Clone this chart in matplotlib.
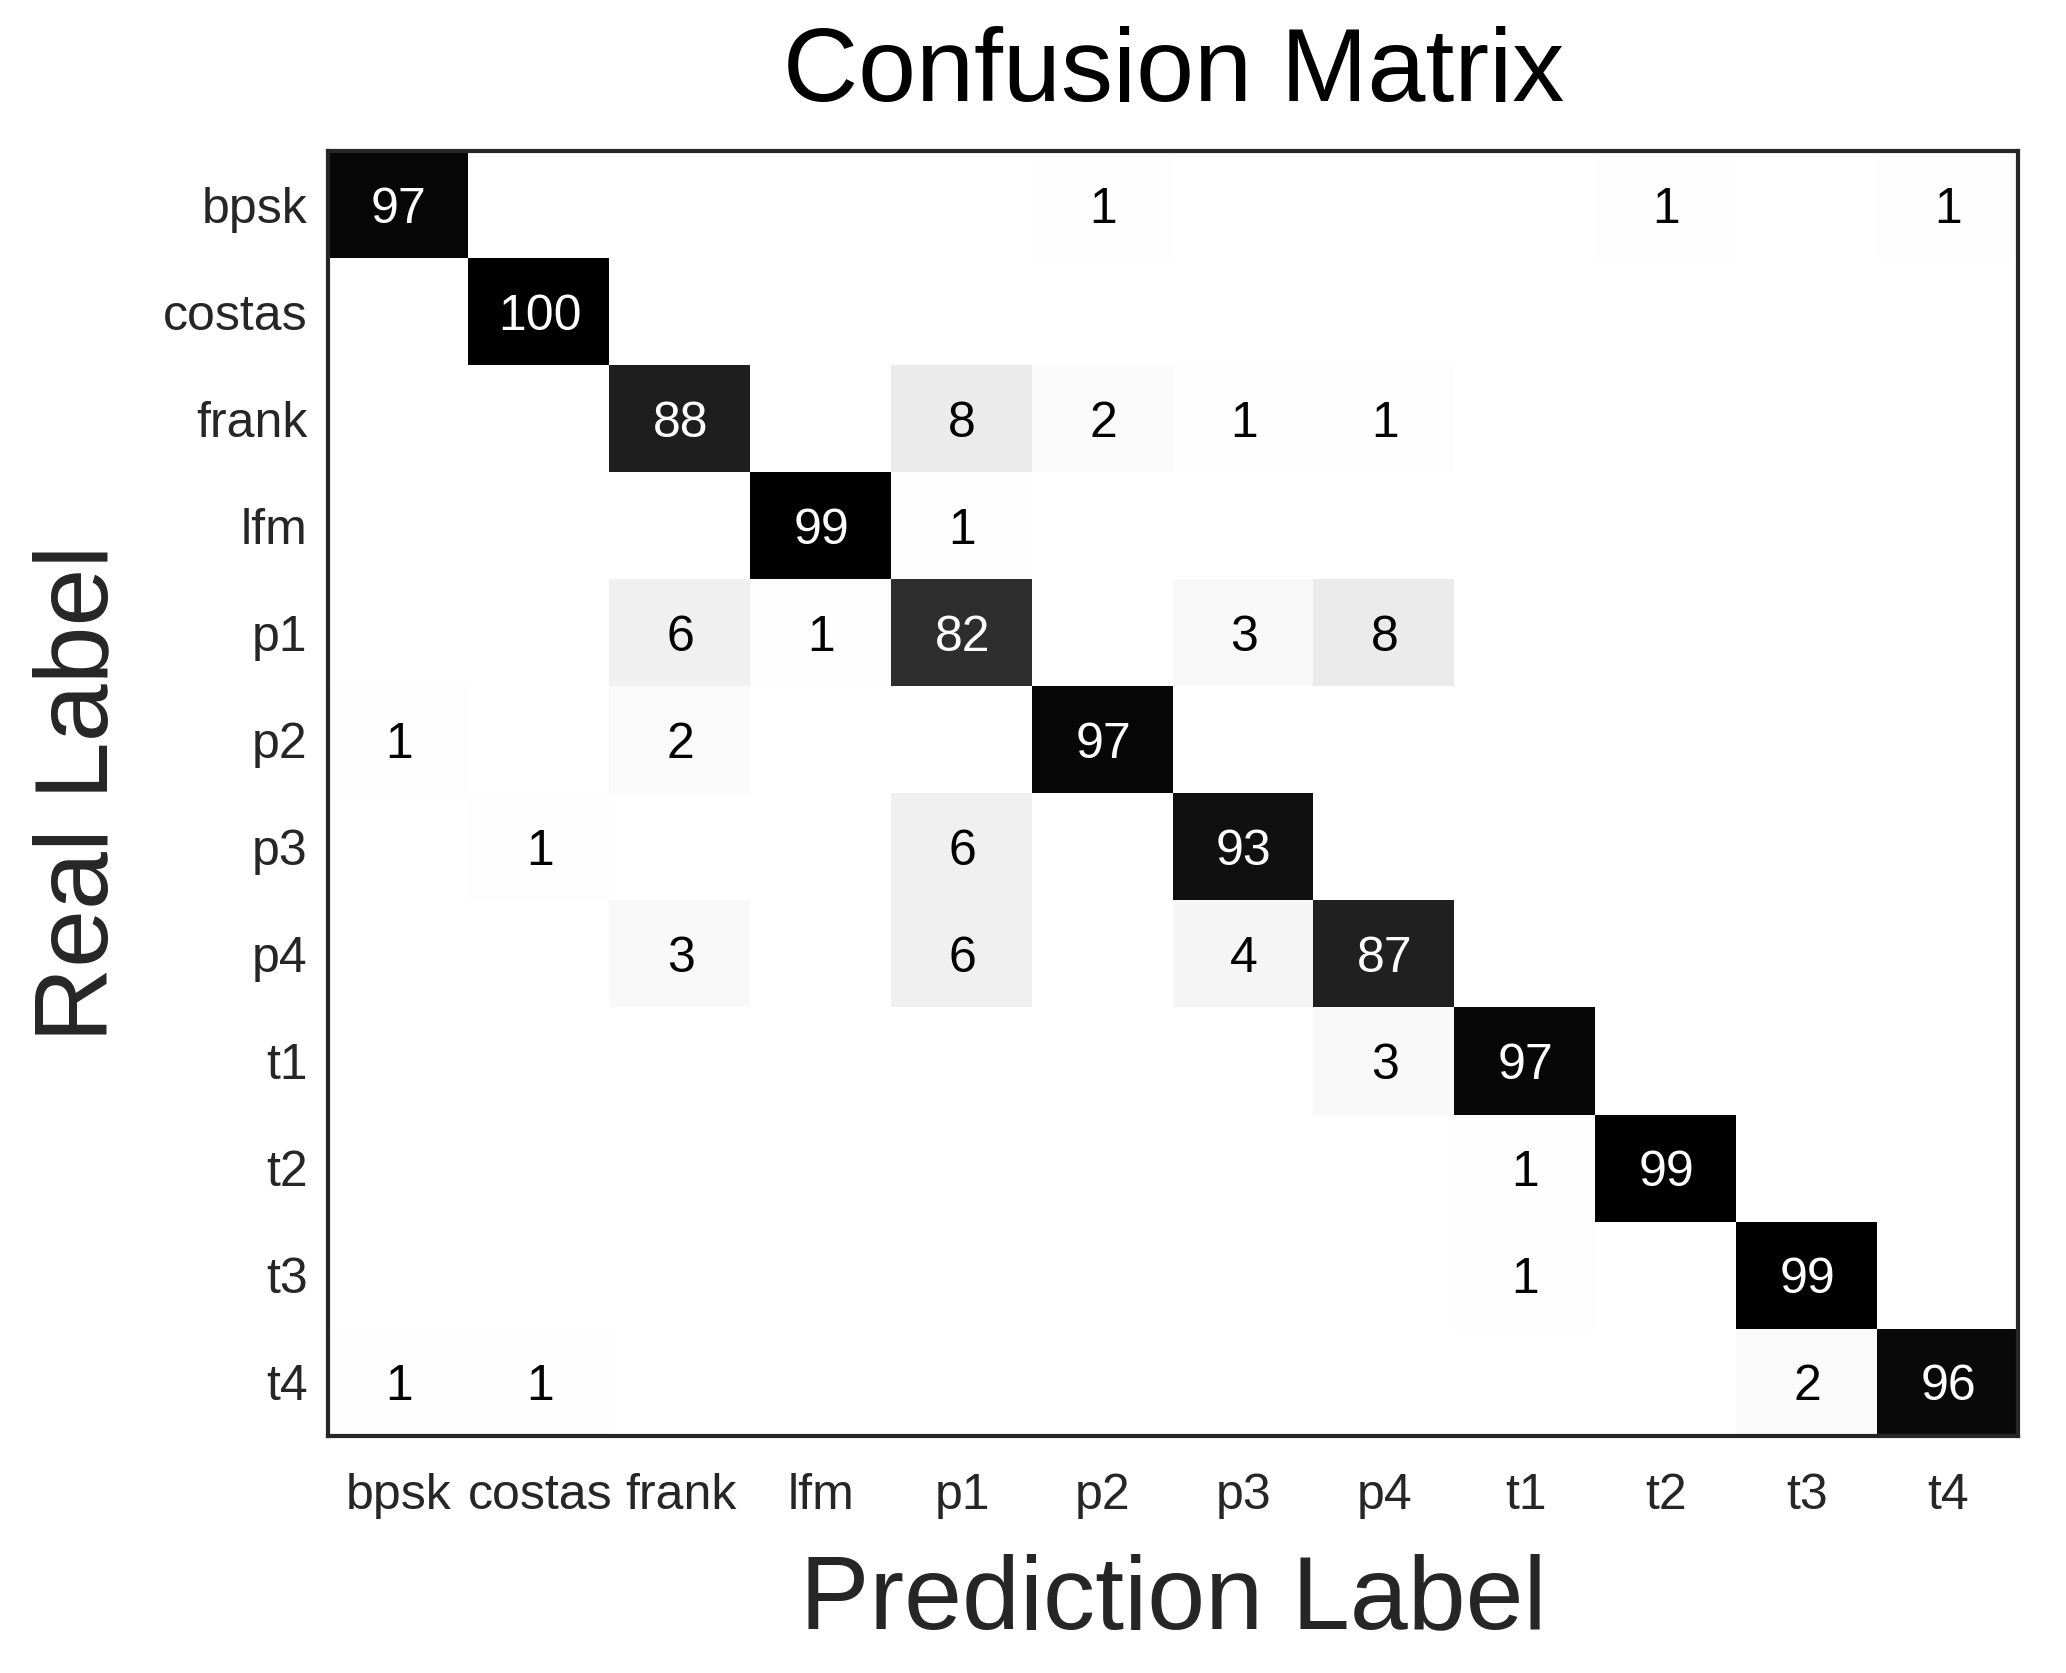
import numpy as np
import matplotlib
matplotlib.use("Agg")
import matplotlib.pyplot as plt

# class names and confusion matrix (rows = real, cols = predicted, %)
classes = ['bpsk', 'costas', 'frank', 'lfm', 'p1', 'p2', 'p3', 'p4', 't1', 't2', 't3', 't4']

row_bpsk   = [97, 0, 0, 0, 0, 1, 0, 0, 0, 1, 0, 1]
row_costas = [0, 100, 0, 0, 0, 0, 0, 0, 0, 0, 0, 0]
row_frank  = [0, 0, 88, 0, 8, 2, 1, 1, 0, 0, 0, 0]
row_lfm    = [0, 0, 0, 99, 1, 0, 0, 0, 0, 0, 0, 0]
row_p1     = [0, 0, 6, 1, 82, 0, 3, 8, 0, 0, 0, 0]
row_p2     = [1, 0, 2, 0, 0, 97, 0, 0, 0, 0, 0, 0]
row_p3     = [0, 1, 0, 0, 6, 0, 93, 0, 0, 0, 0, 0]
row_p4     = [0, 0, 3, 0, 6, 0, 4, 87, 0, 0, 0, 0]
row_t1     = [0, 0, 0, 0, 0, 0, 0, 3, 97, 0, 0, 0]
row_t2     = [0, 0, 0, 0, 0, 0, 0, 0, 1, 99, 0, 0]
row_t3     = [0, 0, 0, 0, 0, 0, 0, 0, 1, 0, 99, 0]
row_t4     = [1, 1, 0, 0, 0, 0, 0, 0, 0, 0, 2, 96]

cm = np.array([row_bpsk, row_costas, row_frank, row_lfm, row_p1, row_p2,
               row_p3, row_p4, row_t1, row_t2, row_t3, row_t4])

plt.rcParams['font.family'] = ['Liberation Sans', 'DejaVu Sans']
grey = '#262626'

fig = plt.figure(figsize=(2066 / 300, 1673 / 300), dpi=300)
ax = fig.add_axes([0.159, 0.1417, 0.818, 0.768])

ax.imshow(cm, cmap='binary', vmin=0, vmax=100, aspect='auto', interpolation='nearest')

# only non-zero cells get a number, white on the dark ones
for i in range(cm.shape[0]):
    for j in range(cm.shape[1]):
        v = cm[i, j]
        if v > 0:
            ax.text(j, i, str(v), ha='center', va='center_baseline', fontsize=12,
                    color='white' if v > 50 else 'black')

ax.set_xticks(np.arange(len(classes)))
ax.set_yticks(np.arange(len(classes)))
ax.set_xticklabels(classes, fontsize=12, color=grey)
ax.set_yticklabels(classes, fontsize=12, color=grey)
ax.tick_params(axis='x', length=0, pad=9)
ax.tick_params(axis='y', length=0, pad=5)

for s in ax.spines.values():
    s.set_color(grey)
    s.set_linewidth(1.0)

ax.set_title('Confusion Matrix', fontsize=25, color='black', pad=12)
ax.set_xlabel('Prediction Label', fontsize=25, color=grey, labelpad=8)
ax.set_ylabel('Real Label', fontsize=25, color=grey, labelpad=8)

fig.savefig('out.png', dpi=300, facecolor='white')
